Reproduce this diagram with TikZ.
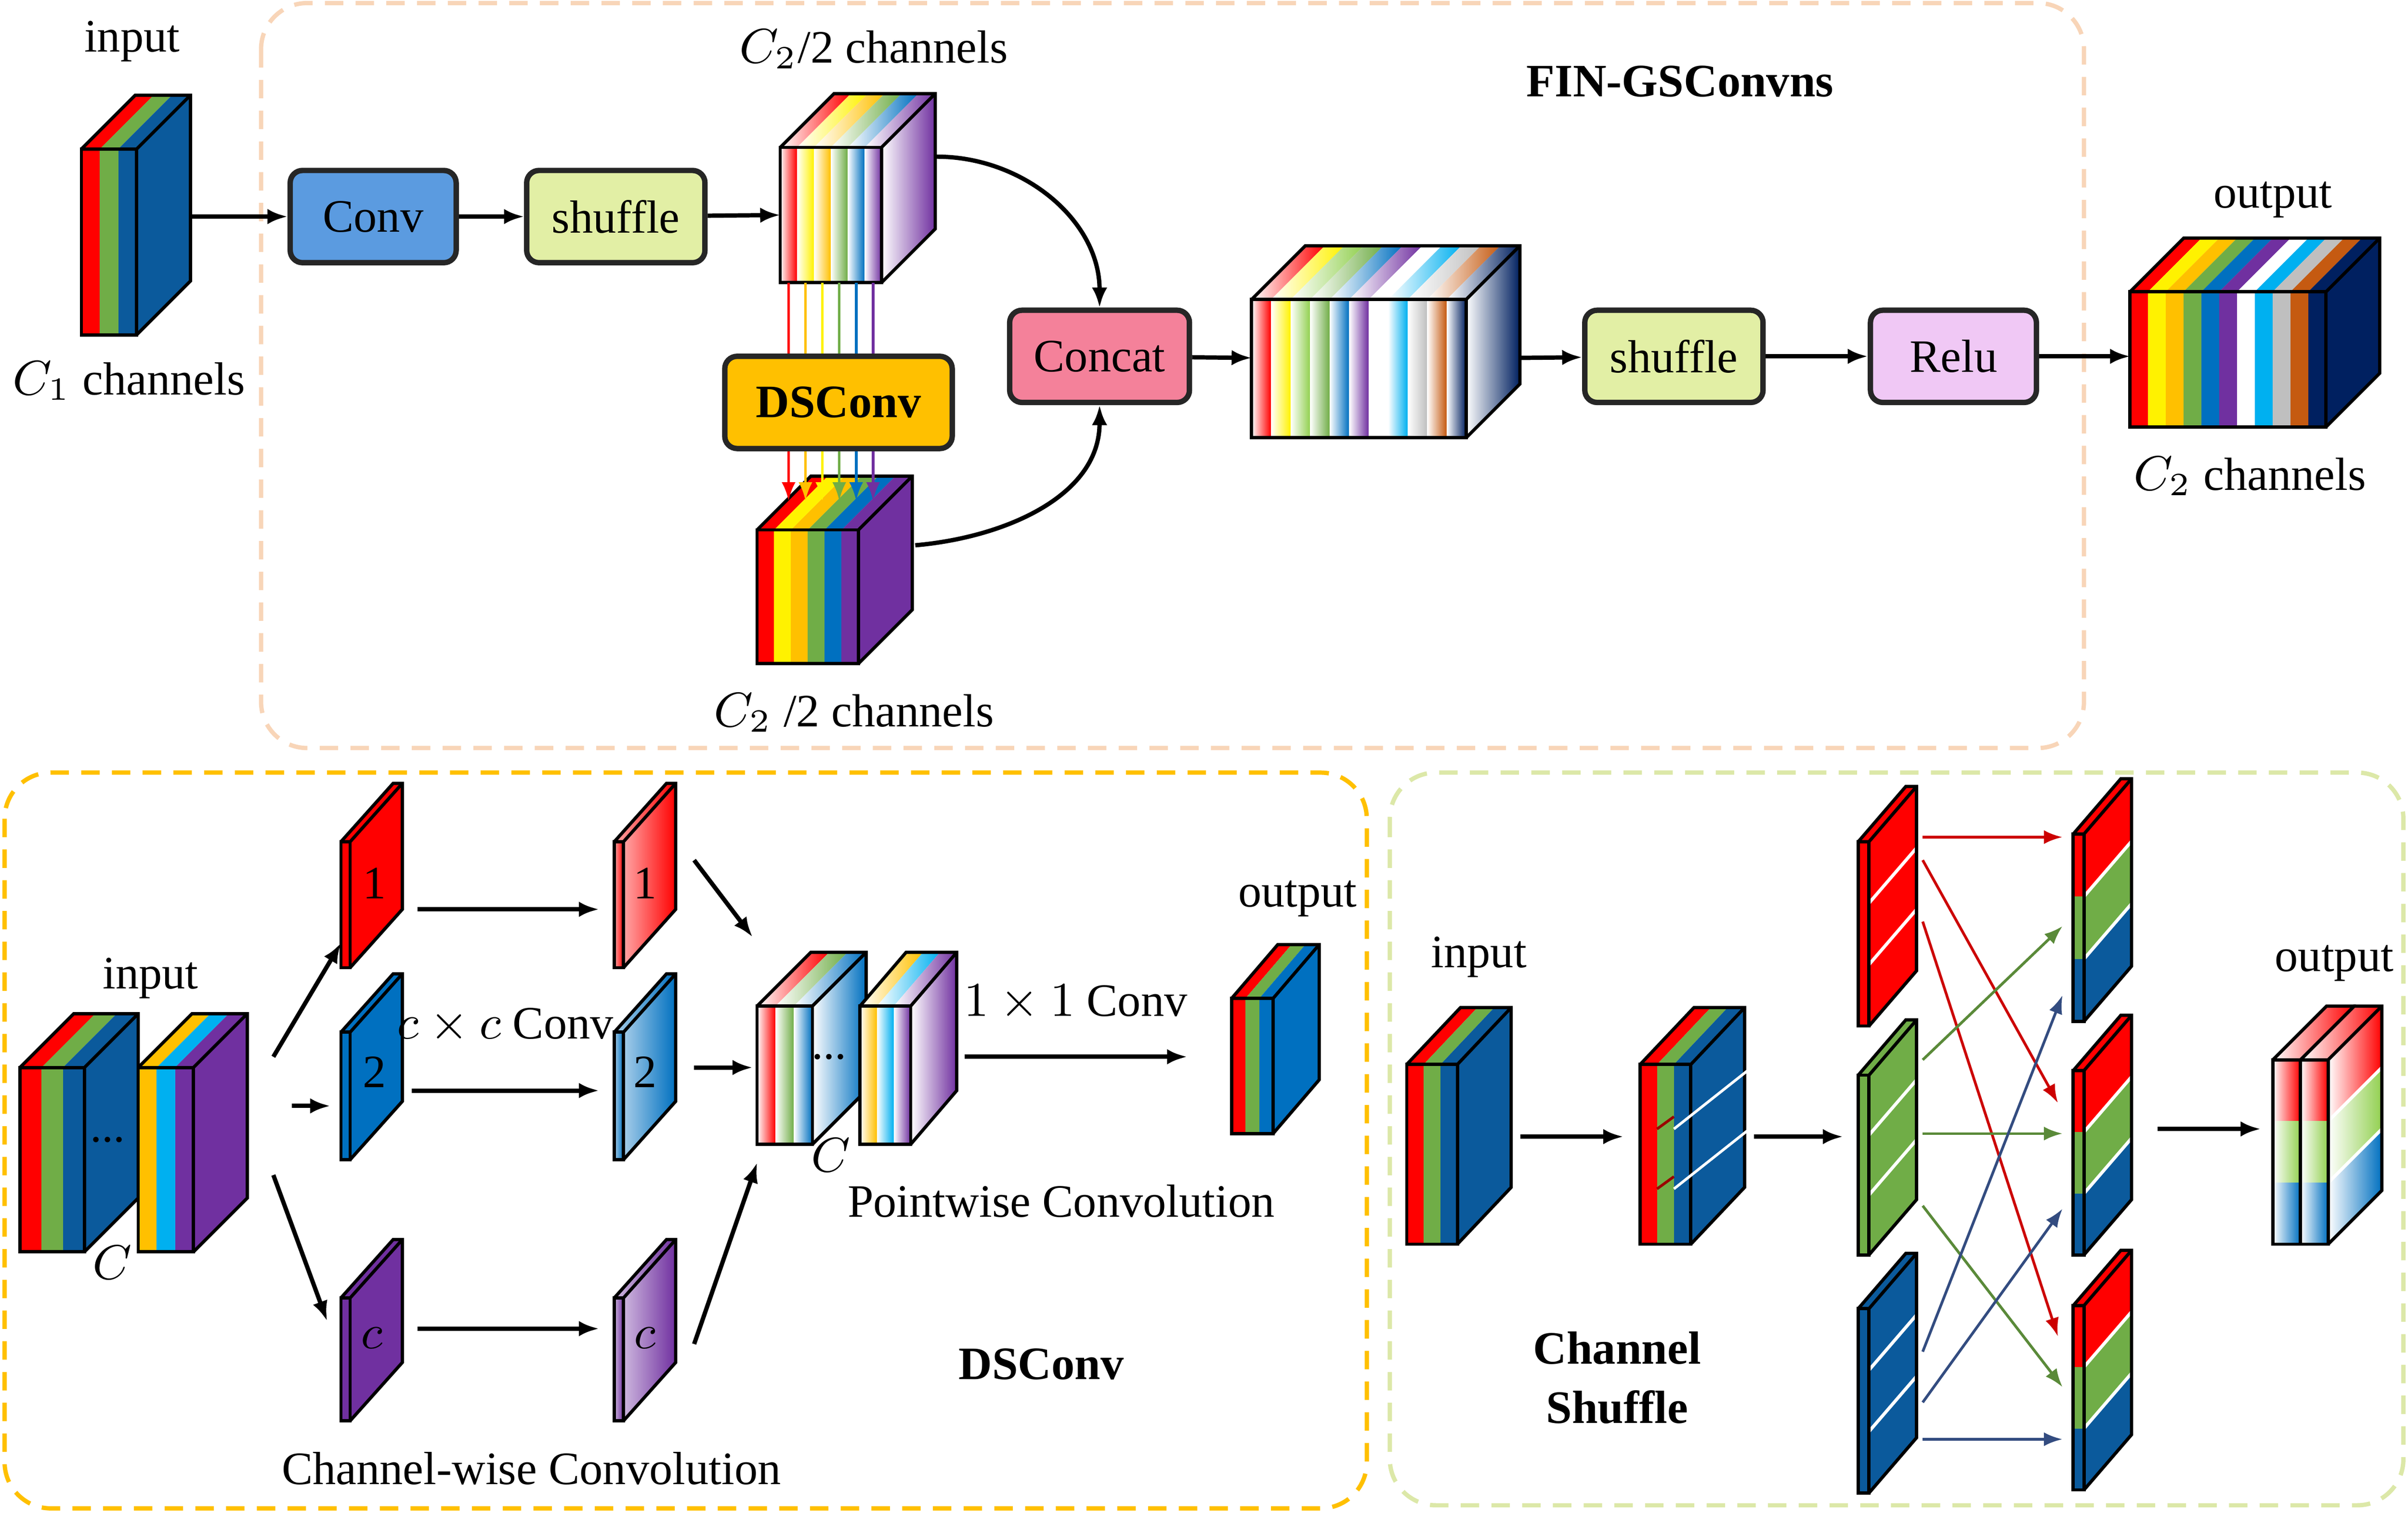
\documentclass[tikz,border=0pt]{standalone}
\usepackage{fontspec}
\setmainfont{Liberation Serif}
\usepackage{amsmath}
\usetikzlibrary{arrows.meta,positioning}

\definecolor{myred}{HTML}{FF0000}
\definecolor{myyellow}{HTML}{FFF200}
\definecolor{mygold}{HTML}{FFC000}
\definecolor{mygreen}{HTML}{70AD47}
\definecolor{mylgreen}{HTML}{92D050}
\definecolor{myblue}{HTML}{0070C0}
\definecolor{mydblue}{HTML}{0B5A9C}
\definecolor{mypurple}{HTML}{7030A0}
\definecolor{mylblue}{HTML}{00B0F0}
\definecolor{mygrey}{HTML}{BFBFBF}
\definecolor{myorange}{HTML}{C55A11}
\definecolor{mynavy}{HTML}{002060}
\definecolor{convblue}{HTML}{5B9BE0}
\definecolor{shufgreen}{HTML}{E2EFA5}
\definecolor{catpink}{HTML}{F4819A}
\definecolor{relupink}{HTML}{F0C8F5}
\definecolor{peach}{HTML}{F8D5B8}
\definecolor{limeline}{HTML}{DCE8A8}

\tikzset{
  solid/.style={fill=#1},
  fade/.style={left color=white,right color=#1},
  sfade/.style={left color=#1!35,right color=#1},
  box/.style={draw=black!85,line width=1pt,rounded corners=0.08cm,
    minimum width=1.08cm,minimum height=0.6cm,font=\fontsize{8.6}{10}\selectfont},
  arr/.style={-{Latex[length=0.13cm,width=0.1cm]},line width=0.8pt},
  carr/.style={-{Latex[length=0.12cm,width=0.09cm]},line width=0.5pt,#1},
  lbl/.style={font=\fontsize{8.6}{10}\selectfont},
  panel/.style={dashed,dash pattern=on 0.12cm off 0.08cm,line width=0.8pt,rounded corners=0.3cm}
}

% feature map: x, y, strip width, height, dx, dy, style, colours
\newcommand{\fmap}[8]{%
  \foreach \c [count=\i] in {#8}{
    \pgfmathsetmacro\xa{#1+(\i-1)*#3}
    \path[#7=\c] (\xa,#2) rectangle ++(#3,#4);
    \path[#7=\c] (\xa,#2) -- ++(#5,#6) -- ++(#3,0) -- ++({-(#5)},{-(#6)}) -- cycle;
    \xdef\lastc{\c}\xdef\nst{\i}}
  \pgfmathsetmacro\xe{#1+\nst*#3}
  \path[#7=\lastc] (\xe,#2) -- ++(#5,#6) -- ++(0,#4) -- ++({-(#5)},{-(#6)}) -- cycle;
  \draw[line width=0.6pt] (#1,#2) rectangle ({\xe},{#2+#4});
  \draw[line width=0.6pt] (#1,#2) -- ++(#5,#6) -- ({\xe+#5},{#2+#6}) -- ++(0,#4) -- ({\xe},{#2+#4});
  \draw[line width=0.6pt] (\xe,#2) -- ++(#5,#6);
}

% banded slab: x, y, width, height, dx, dy, style, three colours
\newcommand{\sslab}[8]{%
  \foreach \c [count=\i] in {#8}{
    \pgfmathsetmacro\ya{#2+(\i-1)*#4/3}
    \path[#7=\c] (#1,\ya) rectangle ++(#3,{#4/3});
    \path[#7=\c] ({#1+#3},\ya) -- ++(#5,#6) -- ++(0,{#4/3}) -- ++({-(#5)},{-(#6)}) -- cycle;
    \ifnum\i=1 \path[#7=\c] (#1,\ya) -- ++(#5,#6) -- ++(#3,0) -- ++({-(#5)},{-(#6)}) -- cycle; \fi
    \ifnum\i>1 \draw[white,line width=0.6pt] ({#1+#3},\ya) -- ++(#5,#6); \fi}
  \draw[line width=0.6pt] (#1,#2) rectangle ({#1+#3},{#2+#4});
  \draw[line width=0.6pt] (#1,#2) -- ++(#5,#6) -- ({#1+#3+#5},{#2+#6}) -- ++(0,#4) -- ({#1+#3},{#2+#4});
  \draw[line width=0.6pt] ({#1+#3},#2) -- ++(#5,#6);
}

\begin{document}
\begin{tikzpicture}[x=0.01cm,y=-0.01cm]
\useasboundingbox (0,0) rectangle (1568,985);

% panels
\draw[panel,peach] (170,2) rectangle (1357,487);
\draw[panel,mygold] (3,503) rectangle (890,982);
\draw[panel,limeline] (905,503) rectangle (1565,980);

% ---------- FIN-GSConvns ----------
\node[lbl] (in1) at (86,27) {input};
\fmap{53}{97}{12}{121}{35}{-35}{solid}{myred,mygreen,mydblue}
\node[lbl] (c1) at (84,248) {$C_1$ channels};

\node[box,fill=convblue] (conv) at (243,141) {Conv};
\node[box,fill=shufgreen,minimum width=1.16cm] (shuf1) at (401,141) {shuffle};
\coordinate (in1e) at (123,141);
\coordinate (halfa) at (508,140);
\draw[arr] (in1e) -- (conv);
\draw[arr] (conv) -- (shuf1);
\draw[arr] (shuf1) -- (halfa);

\fmap{508}{96}{11}{88}{35}{-35}{fade}{myred,myyellow,mygold,mygreen,myblue,mypurple}
\node[lbl] (c2a) at (569,32) {$C_2$/2 channels};

\fmap{493}{345}{11}{87}{35}{-35}{solid}{myred,myyellow,mygold,mygreen,myblue,mypurple}
\node[lbl] (c2b) at (556,464) {$C_2$ /2 channels};

\foreach \c [count=\i] in {myred,mygold,myyellow,mygreen,myblue,mypurple}
  \draw[carr=\c] ({502.5+\i*11},184) -- ({502.5+\i*11},326);

\node[box,fill=mygold,minimum width=1.48cm,font=\fontsize{8.6}{10}\selectfont\bfseries] (ds) at (546,262) {DSConv};
\node[box,fill=catpink,minimum width=1.17cm] (cat) at (716,232) {Concat};

\coordinate (halfae) at (610,102);
\coordinate (halfbe) at (596,355);
\draw[arr] (halfae) to[out=0,in=90] (cat.north);
\draw[arr] (halfbe) to[out=5,in=-90] (cat.south);

\coordinate (fulla) at (815,233);
\draw[arr] (cat) -- (fulla);
\fmap{815}{195}{12.7}{90}{35}{-35}{fade}{myred,myyellow,mylgreen,mygreen,myblue,mypurple,white,mylblue,mygrey,myorange,mynavy}

\node[box,fill=shufgreen,minimum width=1.16cm] (shuf2) at (1090,232) {shuffle};
\node[box,fill=relupink] (relu) at (1272,232) {Relu};
\coordinate (fullae) at (990,233);
\coordinate (outa) at (1387,232);
\draw[arr] (fullae) -- (shuf2);
\draw[arr] (shuf2) -- (relu);
\draw[arr] (relu) -- (outa);

\fmap{1387}{190}{11.6}{88}{35}{-35}{solid}{myred,myyellow,mygold,mygreen,myblue,mypurple,white,mylblue,mygrey,myorange,mynavy}
\node[lbl] (out1) at (1480,130) {output};
\node[lbl] (c2) at (1465,310) {$C_2$ channels};
\node[lbl,font=\fontsize{8.6}{10}\selectfont\bfseries] (title) at (1094,53) {FIN-GSConvns};

% ---------- DSConv ----------
\node[lbl] (in2) at (98,637) {input};
\fmap{13}{695}{14}{120}{35}{-35}{solid}{myred,mygreen,mydblue}
\fmap{90}{695}{12}{120}{35}{-35}{solid}{mygold,mylblue,mypurple}
\node[lbl] (dots1) at (70,742) {...};
\node[lbl] (cc1) at (73,822) {$C$};

\fmap{222}{548}{6}{82}{34}{-38}{solid}{myred}
\fmap{222}{672}{6}{83}{34}{-38}{solid}{myblue}
\fmap{222}{845}{6}{80}{34}{-38}{solid}{mypurple}
\fmap{400}{548}{6}{82}{34}{-38}{sfade}{myred}
\fmap{400}{672}{6}{83}{34}{-38}{sfade}{myblue}
\fmap{400}{845}{6}{80}{34}{-38}{sfade}{mypurple}
\node[lbl] (k1a) at (244,575) {1};
\node[lbl] (k2a) at (244,698) {2};
\node[lbl] (k3a) at (242,871) {$c$};
\node[lbl] (k1b) at (420,575) {1};
\node[lbl] (k2b) at (420,698) {2};
\node[lbl] (k3b) at (420,871) {$c$};

\coordinate (sp) at (178,688);
\coordinate (sq) at (190,720);
\coordinate (sr) at (178,765);
\draw[arr] (sp) -- (222,614);
\draw[arr] (sq) -- (215,720);
\draw[arr] (sr) -- (213,860);
\draw[arr] (272,592) -- (390,592);
\draw[arr] (268,710) -- node[lbl,above=5pt] (cconv) {$c\times c$ Conv} (390,710);
\draw[arr] (272,865) -- (390,865);
\draw[arr] (452,560) -- (490,610);
\draw[arr] (452,695) -- (490,695);
\draw[arr] (452,875) -- (493,757);

\fmap{493}{655}{12}{90}{35}{-35}{fade}{myred,mygreen,myblue}
\fmap{560}{655}{11}{90}{30}{-35}{fade}{mygold,mylblue,mypurple}
\node[lbl] (dots2) at (540,688) {...};
\node[lbl] (cc2) at (541,752) {$C$};

\draw[arr] (628,688) -- node[lbl,above=3pt] (pconv) {$1\times1$ Conv} (773,688);
\fmap{802}{650}{9}{88}{30}{-35}{solid}{myred,mygreen,myblue}
\node[lbl] (out2) at (845,585) {output};
\node[lbl] (pw) at (691,782) {Pointwise Convolution};
\node[lbl,font=\fontsize{8.6}{10}\selectfont\bfseries] (dstitle) at (678,888) {DSConv};
\node[lbl] (cw) at (346,956) {Channel-wise Convolution};

% ---------- Channel Shuffle ----------
\node[lbl] (in3) at (963,623) {input};
\fmap{916}{693}{11}{117}{35}{-37}{solid}{myred,mygreen,mydblue}
\draw[arr] (990,740) -- (1057,740);
\fmap{1068}{693}{11}{117}{35}{-37}{solid}{myred,mygreen,mydblue}
\draw[white,line width=0.5pt] (1090,735) -- (1138,697) (1090,774) -- (1138,736);
\draw[myred!60!black,line width=0.5pt] (1079,735) -- (1090,727) (1079,774) -- (1090,766);
\draw[arr] (1142,740) -- (1200,740);

\sslab{1210}{548}{7}{120}{31}{-36}{solid}{myred,myred,myred}
\sslab{1210}{700}{7}{117}{31}{-36}{solid}{mygreen,mygreen,mygreen}
\sslab{1210}{852}{7}{120}{31}{-36}{solid}{mydblue,mydblue,mydblue}
\sslab{1350}{543}{7}{122}{31}{-36}{solid}{myred,mygreen,mydblue}
\sslab{1350}{697}{7}{120}{31}{-36}{solid}{myred,mygreen,mydblue}
\sslab{1350}{850}{7}{120}{31}{-36}{solid}{myred,mygreen,mydblue}

\draw[carr=myred!80!black] (1252,545) -- (1343,545);
\draw[carr=myred!80!black] (1252,560) -- (1340,718);
\draw[carr=myred!80!black] (1252,600) -- (1340,870);
\draw[carr=mygreen!80!black] (1252,690) -- (1343,603);
\draw[carr=mygreen!80!black] (1252,738) -- (1343,738);
\draw[carr=mygreen!80!black] (1252,785) -- (1343,903);
\draw[carr=mynavy!80] (1252,880) -- (1343,648);
\draw[carr=mynavy!80] (1252,913) -- (1343,787);
\draw[carr=mynavy!80] (1252,937) -- (1343,937);

\draw[arr] (1405,735) -- (1472,735);
\sslab{1480}{690}{18}{120}{35}{-35}{fade}{myred,mylgreen,myblue}
\sslab{1498}{690}{18}{120}{35}{-35}{fade}{myred,mylgreen,myblue}
\node[lbl] (out3) at (1520,627) {output};
\node[lbl,font=\fontsize{8.6}{11}\selectfont\bfseries,align=center] (cstitle) at (1053,897) {Channel\\Shuffle};
\end{tikzpicture}
\end{document}
